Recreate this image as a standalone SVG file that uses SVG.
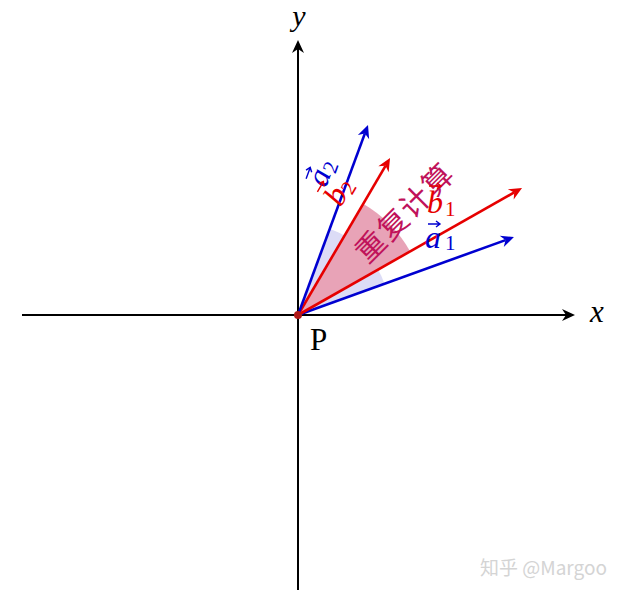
<svg xmlns="http://www.w3.org/2000/svg" width="622" height="595" viewBox="0 0 622 595">
  <style>
    .axis { stroke: #000; stroke-width: 2; fill: none; }
    .vb { stroke: #0000d0; stroke-width: 2.6; fill: none; }
    .vr { stroke: #e60000; stroke-width: 2.6; fill: none; }
    .math { font-family: "Liberation Serif", "DejaVu Serif", serif; font-style: italic; }
    .rm { font-family: "Liberation Serif", "DejaVu Serif", serif; }
    .blue { fill: #0000d0; }
    .red { fill: #e60000; }
    .vecb { stroke: #0000d0; stroke-width: 1.4; fill: none; }
    .vecr { stroke: #e60000; stroke-width: 1.4; fill: none; }
  </style>
  <defs>
    <marker id="ak" markerUnits="userSpaceOnUse" markerWidth="16" markerHeight="16" viewBox="-1 -8 16 16" refX="4" refY="0" orient="auto">
      <path d="M13,0 L0,-6 L4,0 L0,6 Z" fill="#000"/>
    </marker>
    <marker id="ab" markerUnits="userSpaceOnUse" markerWidth="16" markerHeight="16" viewBox="-1 -8 16 16" refX="4" refY="0" orient="auto">
      <path d="M13,0 L0,-6 L4,0 L0,6 Z" fill="#0000d0"/>
    </marker>
    <marker id="ar" markerUnits="userSpaceOnUse" markerWidth="16" markerHeight="16" viewBox="-1 -8 16 16" refX="4" refY="0" orient="auto">
      <path d="M13,0 L0,-6 L4,0 L0,6 Z" fill="#e60000"/>
    </marker>
  </defs>
  <rect width="622" height="595" fill="#fff"/>

  <g id="wedges">
    <path d="M298,315 L384.5,283.7 A92,92 0 0 0 329.8,228.7 Z" fill="#dcdcf6"/>
    <path d="M298,315 L410.2,251.4 A129,129 0 0 0 363.1,203.7 Z" fill="#e8a3b7"/>
  </g>

  <g id="connectors">
    <line class="axis" x1="22" y1="315" x2="566" y2="315" marker-end="url(#ak)"/>
    <line class="axis" x1="298" y1="590" x2="298" y2="49" marker-end="url(#ak)"/>
    <line class="vb" x1="298" y1="315" x2="505.5" y2="240.1" marker-end="url(#ab)"/>
    <line class="vr" x1="298" y1="315" x2="514.2" y2="192.4" marker-end="url(#ar)"/>
    <line class="vr" x1="298" y1="315" x2="385.5" y2="165.8" marker-end="url(#ar)"/>
    <line class="vb" x1="298" y1="315" x2="364.9" y2="133.4" marker-end="url(#ab)"/>
  </g>

  <g id="origin">
    <circle cx="298" cy="315" r="4" fill="#b01818"/>
    <text class="rm" x="310" y="350" font-size="31" fill="#000">P</text>
  </g>

  <g id="axis-labels">
    <text class="math" x="299" y="26" font-size="30" text-anchor="middle">y</text>
    <text class="math" x="597" y="322" font-size="31" text-anchor="middle">x</text>
  </g>

  <g id="label-overlap">
    <text x="0" y="0" transform="translate(403,211) rotate(-45)" font-family="'Noto Sans CJK SC', sans-serif" font-size="30" letter-spacing="1.5" fill="#c0125a" text-anchor="middle" dominant-baseline="central">重复计算</text>
  </g>

  <g id="label-a2" transform="translate(322,176) rotate(-70)">
    <text class="math blue" x="-10" y="8" font-size="32">a</text>
    <text class="rm blue" x="6" y="12" font-size="21">2</text>
    <path class="vecb" d="M-8,-14 H3 M0,-17 L4,-14 L0,-11"/>
  </g>

  <g id="label-b2" transform="translate(337,194) rotate(-60)">
    <text class="math red" x="-10" y="10" font-size="32">b</text>
    <text class="rm red" x="6" y="14" font-size="21">2</text>
    <path class="vecr" d="M-8,-18 H3 M0,-21 L4,-18 L0,-15"/>
  </g>

  <g id="label-b1">
    <text class="math red" x="427" y="213" font-size="32">b</text>
    <text class="rm red" x="445" y="216" font-size="21">1</text>
    <path class="vecr" d="M429,186 H440 M437,183 L441,186 L437,189"/>
  </g>

  <g id="label-a1">
    <text class="math blue" x="425" y="248" font-size="32">a</text>
    <text class="rm blue" x="445" y="250" font-size="21">1</text>
    <path class="vecb" d="M428,224 H439 M436,221 L440,224 L436,227"/>
  </g>

  <g id="watermark">
    <text x="480" y="575" font-family="'Noto Sans CJK SC', 'Liberation Sans', sans-serif" font-size="19" fill="#d4d4d4">知乎 @Margoo</text>
  </g>
</svg>
